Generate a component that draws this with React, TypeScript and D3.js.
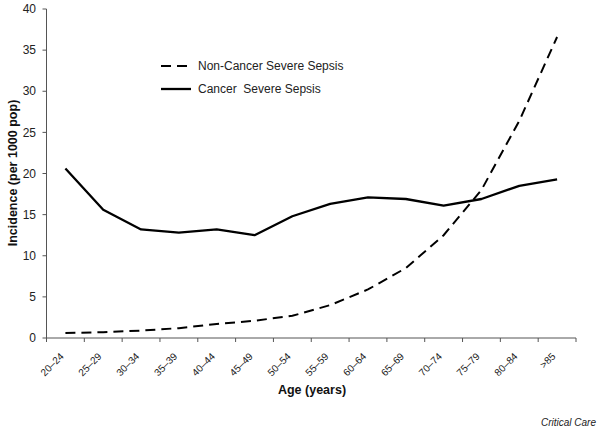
import React from "react";
import * as d3 from "d3";

const categories = ["20–24","25–29","30–34","35–39","40–44","45–49","50–54","55–59","60–64","65–69","70–74","75–79","80–84",">85"];
const nonCancer = [0.6, 0.7, 0.9, 1.2, 1.7, 2.1, 2.7, 4.0, 5.9, 8.5, 12.5, 18.0, 26.4, 36.6];
const cancer = [20.6, 15.6, 13.2, 12.8, 13.2, 12.5, 14.8, 16.3, 17.1, 16.9, 16.1, 16.9, 18.5, 19.3];
const yTicks = [0, 5, 10, 15, 20, 25, 30, 35, 40];

const W = 600, H = 428;
const left = 46.5, right = 576, top = 9, bottom = 338;
const font = "Liberation Sans, Arial, sans-serif";

export default function App() {
  const x = d3.scaleBand<string>().domain(categories).range([left, right]).padding(0);
  const y = d3.scaleLinear().domain([0, 40]).range([bottom, top]);
  const cx = (i: number) => (x(categories[i]) as number) + x.bandwidth() / 2;
  const line = d3.line<number>().x((_, i) => cx(i)).y((d) => y(d));
  const xTickPos = [...categories.map((c) => x(c) as number), right];

  return (
    <svg width={W} height={H} style={{ position: "absolute", left: 0, top: 0, background: "#fff" }} fontFamily={font}>
      <rect width={W} height={H} fill="#fff" />
      {/* y axis */}
      <line x1={left} x2={left} y1={top} y2={bottom} stroke="#555" strokeWidth={1} />
      {yTicks.map((t) => (
        <g key={t}>
          <line x1={left - 4} x2={left} y1={y(t)} y2={y(t)} stroke="#555" />
          <text x={36} y={y(t)} dy="0.35em" textAnchor="end" fontSize={12} fill="#222">{t}</text>
        </g>
      ))}
      {/* x axis */}
      <line x1={left} x2={right} y1={bottom} y2={bottom} stroke="#555" />
      {xTickPos.map((p, i) => (
        <line key={i} x1={p} x2={p} y1={bottom} y2={bottom + 4} stroke="#555" />
      ))}
      {categories.map((c, i) => (
        <text key={c} transform={`translate(${cx(i) - 1},357) rotate(-45)`} textAnchor="end" fontSize={10} fill="#222">{c}</text>
      ))}
      {/* lines */}
      <path d={line(nonCancer) as string} fill="none" stroke="#000" strokeWidth={2} strokeDasharray="10,6" />
      <path d={line(cancer) as string} fill="none" stroke="#000" strokeWidth={2.3} strokeLinejoin="round" />
      {/* legend */}
      <line x1={161} x2={190} y1={66} y2={66} stroke="#000" strokeWidth={2} strokeDasharray="10,6" />
      <text x={198} y={66} dy="0.35em" fontSize={12} fill="#222">Non-Cancer Severe Sepsis</text>
      <line x1={161} x2={191} y1={89} y2={89} stroke="#000" strokeWidth={2.3} />
      <text x={198} y={89} dy="0.35em" fontSize={12} fill="#222" style={{ whiteSpace: "pre" }}>{"Cancer  Severe Sepsis"}</text>
      {/* axis titles */}
      <text transform={`translate(13,173) rotate(-90)`} textAnchor="middle" dy="0.35em" fontSize={12.5} fontWeight="bold" fill="#111">Incidence (per 1000 pop)</text>
      <text x={312} y={394} textAnchor="middle" fontSize={12.5} fontWeight="bold" fill="#111">Age (years)</text>
      <text x={596} y={426} textAnchor="end" fontSize={10} fontStyle="italic" fill="#222">Critical Care</text>
    </svg>
  );
}
